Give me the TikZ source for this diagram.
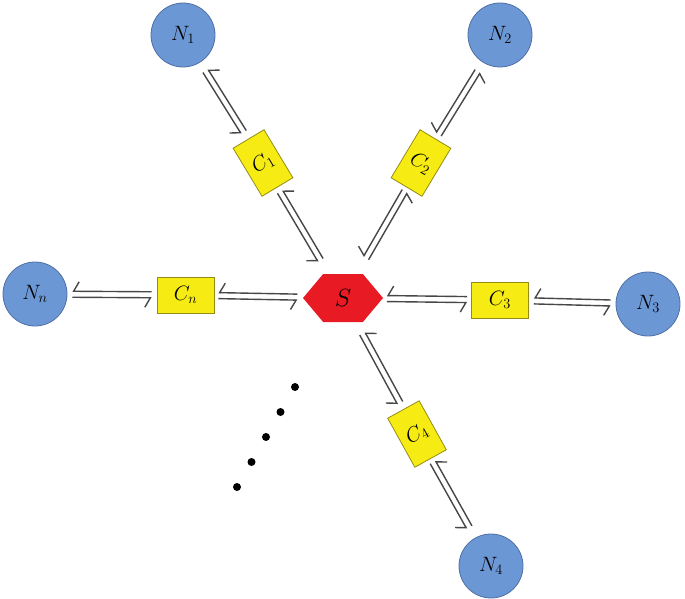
\documentclass[tikz,border=0pt]{standalone}
\usepackage{tikz}
\usetikzlibrary{arrows.meta,shapes.symbols,calc}
\definecolor{nodeblue}{RGB}{108,151,213}
\definecolor{nodeedge}{RGB}{78,112,165}
\definecolor{chanyellow}{RGB}{246,236,20}
\definecolor{chanedge}{RGB}{150,140,20}
\definecolor{hubred}{RGB}{232,26,36}
\begin{document}
\begin{tikzpicture}[
  x=1pt, y=-1pt,
  netnode/.style={circle, draw=nodeedge, line width=0.8pt, fill=nodeblue, minimum size=64pt, inner sep=0pt, font=\fontsize{20}{20}\selectfont},
  chan/.style={draw=chanedge, fill=chanyellow, line width=0.8pt, minimum width=57pt, minimum height=36pt, inner sep=0pt, font=\fontsize{20}{20}\selectfont},
  tchan/.style={chan, minimum width=36pt, minimum height=56pt},
  hub/.style={signal, signal to=east and west, signal pointer angle=100, fill=hubred, minimum width=80pt, minimum height=48pt, inner sep=0pt, font=\fontsize{26}{26}\selectfont},
  harp/.style={-{Straight Barb[right, angle=120:11pt]}, line width=1.4pt, draw=black!72},
  up/.style={transform canvas={shift={(#1+90:3pt)}}},
  dn/.style={transform canvas={shift={(#1-90:3pt)}}}
]
\useasboundingbox (0,0) rectangle (685,599);

% hub and channels
\node[hub] (s) at (343,298) {$S$};
\node[chan] (cn) at (185.5,295) {$C_n$};
\node[chan] (c3) at (500,300) {$C_3$};
\node[tchan, rotate=31] (c1) at (263,163) {$C_1$};
\node[tchan, rotate=-31] (c2) at (421,163) {$C_2$};
\node[tchan, rotate=29] (c4) at (417,434) {$C_4$};

% end nodes
\node[netnode] (n1) at (183,35) {$N_1$};
\node[netnode] (n2) at (500,35) {$N_2$};
\node[netnode] (nn) at (35,294) {$N_n$};
\node[netnode] (n3) at (648,304) {$N_3$};
\node[netnode] (n4) at (491,566) {$N_4$};

% harpoon pairs, left / right
\draw[harp, dn=0, shorten <=5pt, shorten >=5pt] (nn) -- (cn);
\draw[harp, up=0, shorten <=5pt, shorten >=5pt] (cn) -- (nn);
\draw[harp, dn=0, shorten <=4pt, shorten >=6pt] (cn) -- (s);
\draw[harp, up=0, shorten <=6pt, shorten >=4pt] (s) -- (cn);
\draw[harp, dn=0, shorten <=4pt, shorten >=4pt] (s) -- (c3);
\draw[harp, up=0, shorten <=4pt, shorten >=4pt] (c3) -- (s);
\draw[harp, dn=0, shorten <=5pt, shorten >=5pt] (c3) -- (n3);
\draw[harp, up=0, shorten <=5pt, shorten >=5pt] (n3) -- (c3);

% harpoon pairs, diagonals
\draw[harp, dn=-58.7, shorten <=10pt, shorten >=8pt] (n1) -- (c1);
\draw[harp, up=-58.7, shorten <=8pt, shorten >=10pt] (c1) -- (n1);
\draw[harp, dn=-58.7, shorten <=5pt, shorten >=16pt] (c1) -- (s);
\draw[harp, up=-58.7, shorten <=16pt, shorten >=5pt] (s) -- (c1);
\draw[harp, dn=59.2, shorten <=18pt, shorten >=4pt] (s) -- (c2);
\draw[harp, up=59.2, shorten <=4pt, shorten >=18pt] (c2) -- (s);
\draw[harp, dn=59.2, shorten <=5pt, shorten >=10pt] (c2) -- (n2);
\draw[harp, up=59.2, shorten <=10pt, shorten >=5pt] (n2) -- (c2);
\draw[harp, dn=-61.1, shorten <=13pt, shorten >=7pt] (s) -- (c4);
\draw[harp, up=-61.1, shorten <=7pt, shorten >=13pt] (c4) -- (s);
\draw[harp, dn=-61.1, shorten <=4pt, shorten >=12pt] (c4) -- (n4);
\draw[harp, up=-61.1, shorten <=12pt, shorten >=4pt] (n4) -- (c4);

% dots
\foreach \k in {0,...,4}
  \fill ($(237,487)+\k*(14.5,-25)$) circle (4pt);
\end{tikzpicture}
\end{document}
